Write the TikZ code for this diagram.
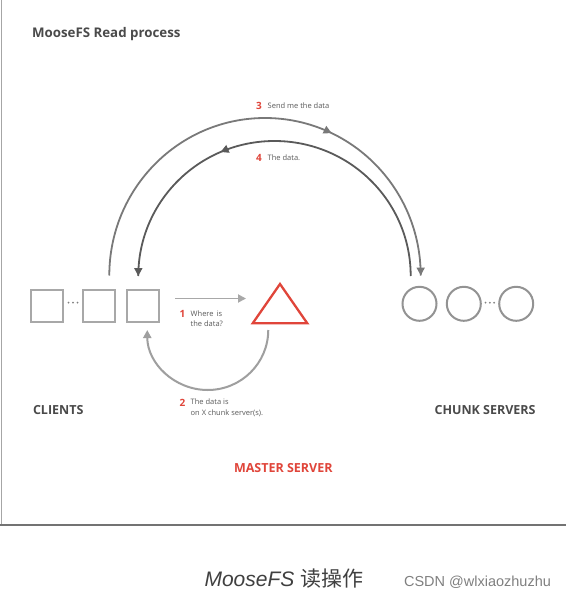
\documentclass[tikz,border=0pt]{standalone}
\usepackage{fontspec}
\setmainfont{Open Sans}
\newfontfamily\capfont{Liberation Sans}
\newfontfamily\cjkfont{Noto Sans CJK SC}
\usetikzlibrary{arrows.meta,decorations.markings,calc}
\definecolor{mred}{HTML}{E0453A}
\definecolor{tgray}{HTML}{4A4A4A}
\definecolor{lgray}{HTML}{A8A8A8}
\definecolor{sgray}{HTML}{5A5A5A}
\begin{document}
\begin{tikzpicture}[x=1pt,y=-1pt,
  box/.style={draw=lgray,line width=2pt,minimum size=32pt,inner sep=0pt},
  srv/.style={draw=gray!85,line width=2pt,circle,minimum size=34pt,inner sep=0pt},
  dotty/.style={fill=gray,circle,inner sep=0pt,minimum size=2pt},
  head/.style={anchor=base west,text=tgray,font=\bfseries\fontsize{12.5}{14}\selectfont},
  num/.style={anchor=base west,text=mred,font=\bfseries\fontsize{10}{11}\selectfont},
  small/.style={anchor=base west,text=sgray,font=\fontsize{7.5}{9}\selectfont,inner sep=0pt},
  tip/.style={-{Triangle[width=8pt,length=8pt]}},
  midarrow/.style={postaction={decorate},decoration={markings,mark=at position #1 with {\arrow{Triangle[width=8pt,length=8pt]}}}}
]
\useasboundingbox (0,0) rectangle (566,597);
\fill[white] (0,0) rectangle (566,597);
% frame
\draw[gray!70,line width=1pt] (1,0) -- (1,525);
\draw[gray!90!black,line width=1.2pt] (0,525) -- (566,525);

% title
\node[anchor=base west,text=tgray,font=\bfseries\fontsize{13.3}{15}\selectfont] (title) at (28.5,37.5) {MooseFS Read process};

% clients
\node[box] (sq1) at (46.7,306.3) {};
\node[box] (sq2) at (99,306.3) {};
\node[box] (sq3) at (143.3,306.3) {};
\node[dotty] (d1) at (68.5,302.5) {};
\node[dotty] (d2) at (73,302.5) {};
\node[dotty] (d3) at (77.5,302.5) {};

% chunk servers
\node[srv] (cs1) at (419.5,303.8) {};
\node[srv] (cs2) at (463.8,303.8) {};
\node[srv] (cs3) at (516.2,303.8) {};
\node[dotty] (e1) at (485.5,302.7) {};
\node[dotty] (e2) at (489.8,302.7) {};
\node[dotty] (e3) at (494.1,302.7) {};

% master
\coordinate (mA) at (280,284);
\coordinate (mR) at (307.3,323.3);
\coordinate (mL) at (252.7,323.3);
\draw[mred,line width=2.3pt,line join=miter] (mA) -- (mR) -- (mL) -- cycle;
\coordinate (master) at (280,310);

% step 1
\coordinate (r1) at (175,298.5);
\coordinate (r2) at (246,298.5);
\draw[lgray,line width=1.8pt,tip] (r1) -- (r2);
\node[num] (n1) at (176,317.5) {1};
\node[small] (t1a) at (190.5,316) {Where\, is};
\node[small] (t1b) at (190.5,326.5) {the data?};

% step 2
\coordinate (b1) at ($(mL)!0.285!(mR)+(0,6.7)$);
\coordinate (b2) at (147,330);
\draw[gray!75,line width=2pt,tip] (b1) arc[start angle=0,end angle=180,x radius=60.5,y radius=60];
\node[num] (n2) at (176,406) {2};
\node[small] (t2a) at (190.5,404.8) {The data is};
\node[small] (t2b) at (190.5,415.3) {on X chunk server(s).};

% step 3
\coordinate (o1) at (109.3,275.5);
\draw[gray!95!black,line width=1.8pt,midarrow=0.64] (o1) arc[start angle=180,end angle=360,x radius=155.7,y radius=157.5] coordinate (o2);
\draw[gray!95!black,line width=1.8pt,tip] ($(o2)+(0,-2)$) -- (o2);
\node[num] (n3) at (252.5,109) {3};
\node[small] (t3) at (267.5,108) {Send me the data};

% step 4
\coordinate (i1) at (410.7,276);
\draw[sgray,line width=1.8pt,midarrow=0.63] (i1) arc[start angle=0,end angle=-180,x radius=136.2,y radius=135] coordinate (i2);
\draw[sgray,line width=1.8pt,tip] ($(i2)+(0,-2)$) -- (i2);
\node[num] (n4) at (252.5,161.5) {4};
\node[small] (t4) at (267.5,160.5) {The data.};

% labels
\node[head] (clients) at (29.5,414) {CLIENTS};
\node[head] (chunk) at (431,414) {CHUNK SERVERS};
\node[head,text=mred] (mlabel) at (230.5,472) {MASTER SERVER};

% caption
\node[anchor=base west,text=black!75,font=\fontsize{21}{24}\selectfont] (cap) at (201,586.5) {\capfont\itshape MooseFS\/ \cjkfont 读操作};
\node[anchor=base west,text=gray,font=\capfont\fontsize{14.5}{17}\selectfont] (csdn) at (400.5,586) {CSDN @wlxiaozhuzhu};
\end{tikzpicture}
\end{document}
